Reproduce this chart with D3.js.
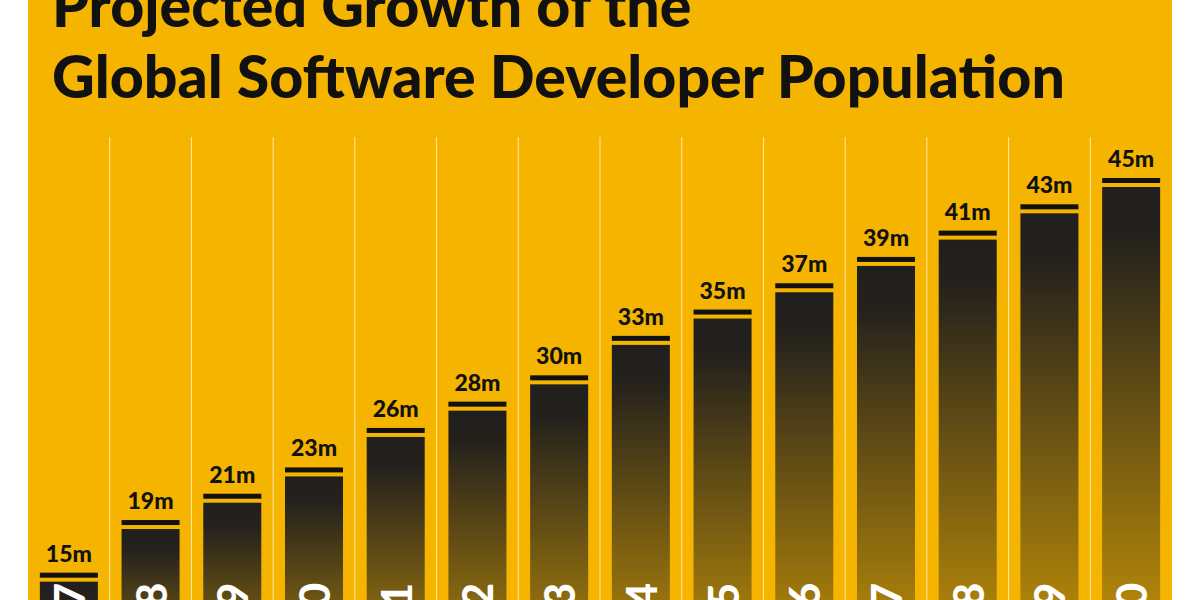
<!DOCTYPE html>
<html>
<head>
<meta charset="utf-8">
<script src="https://cdn.jsdelivr.net/npm/d3@7"></script>
<style>
  html, body { margin: 0; padding: 0; background: #ffffff; }
  svg { display: block; }
</style>
</head>
<body>
<div id="chart"></div>
<script>
const years = ["2017", "2018", "2019", "2020", "2021", "2022", "2023", "2024", "2025", "2026", "2027", "2028", "2029", "2030"];
const developers = [15, 19, 21, 23, 26, 28, 30, 33, 35, 37, 39, 41, 43, 45];
const titleLines = ["Projected Growth of the", "Global Software Developer Population"];

const width = 1200;
const height = 600;
const panel = { left: 28, right: 1172 };
const yellow = "#f4b400";
const fontFamily = "Lato, 'Open Sans', sans-serif";

const svg = d3.select("#chart")
  .append("svg")
  .attr("width", width)
  .attr("height", height)
  .attr("viewBox", `0 0 ${width} ${height}`);

const defs = svg.append("defs");
const grad = defs.append("linearGradient")
  .attr("id", "barFade")
  .attr("x1", 0).attr("y1", 0)
  .attr("x2", 0).attr("y2", 1);
grad.append("stop").attr("offset", "0%").attr("stop-color", "#211f1e");
grad.append("stop").attr("offset", "8%").attr("stop-color", "#24211d");
grad.append("stop").attr("offset", "100%").attr("stop-color", yellow);

// yellow panel
svg.append("rect")
  .attr("x", panel.left)
  .attr("y", 0)
  .attr("width", panel.right - panel.left)
  .attr("height", height)
  .attr("fill", yellow);

const x = d3.scaleBand()
  .domain(years)
  .range([panel.left, panel.right])
  .paddingInner(0.29)
  .paddingOuter(0.145);

const y = d3.scaleLinear()
  .domain([0, 45])
  .range([779, 187]);

// thin column separators
const step = x.step();
svg.append("g")
  .selectAll("line")
  .data(years.slice(1))
  .join("line")
  .attr("x1", (d) => x(d) - step * 0.145)
  .attr("x2", (d) => x(d) - step * 0.145)
  .attr("y1", 137)
  .attr("y2", height)
  .attr("stroke", "#fde9a6")
  .attr("stroke-width", 1);

const rows = years.map((year, i) => ({ year, value: developers[i] }));

const bars = svg.append("g");

bars.selectAll("rect.bar")
  .data(rows)
  .join("rect")
  .attr("class", "bar")
  .attr("x", (d) => x(d.year))
  .attr("y", (d) => y(d.value))
  .attr("width", x.bandwidth())
  .attr("height", (d) => y(0) - y(d.value))
  .attr("fill", "url(#barFade)");

bars.selectAll("rect.cap")
  .data(rows)
  .join("rect")
  .attr("class", "cap")
  .attr("x", (d) => x(d.year))
  .attr("y", (d) => y(d.value) - 9)
  .attr("width", x.bandwidth())
  .attr("height", 5)
  .attr("fill", "#111111");

bars.selectAll("text.value")
  .data(rows)
  .join("text")
  .attr("class", "value")
  .attr("x", (d) => x(d.year) + x.bandwidth() / 2)
  .attr("y", (d) => y(d.value) - 20)
  .attr("text-anchor", "middle")
  .attr("font-family", fontFamily)
  .attr("font-weight", 900)
  .attr("font-size", 23)
  .attr("fill", "#111111")
  .text((d) => `${d.value}m`);

bars.selectAll("text.year")
  .data(rows)
  .join("text")
  .attr("class", "year")
  .attr("transform", (d) => `translate(${x(d.year) + x.bandwidth() / 2}, 583) rotate(-90)`)
  .attr("text-anchor", "end")
  .attr("dominant-baseline", "central")
  .attr("font-family", fontFamily)
  .attr("font-weight", 900)
  .attr("font-size", 42)
  .attr("fill", "#ffffff")
  .text((d) => d.year);

// title, sized to fit the reference width
const title = svg.append("g")
  .attr("font-family", fontFamily)
  .attr("font-weight", 900)
  .attr("fill", "#111111");

const line2 = title.append("text")
  .attr("x", 52)
  .attr("y", 98)
  .attr("font-size", 50)
  .text(titleLines[1]);

const measured = line2.node().getComputedTextLength();
const fontSize = 50 * (1013 / measured);
line2.attr("font-size", fontSize);

title.append("text")
  .attr("x", 52)
  .attr("y", 27)
  .attr("font-size", fontSize)
  .text(titleLines[0]);
</script>
</body>
</html>
